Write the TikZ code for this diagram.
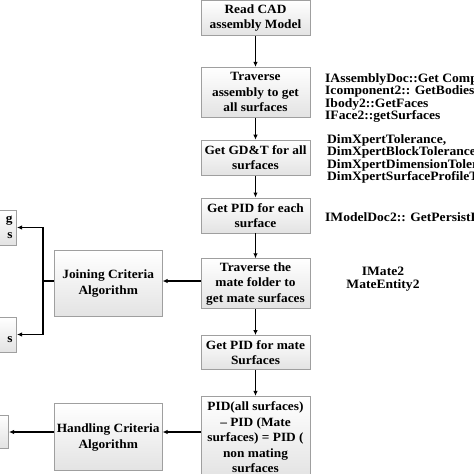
\documentclass[tikz,border=0pt]{standalone}
\usepackage{fontspec}
\setmainfont[FakeStretch=1.06]{Liberation Serif}
\usetikzlibrary{positioning,arrows.meta}
\tikzset{
  blk/.style={draw=gray!75, line width=0.8pt, align=center, font=\bfseries\fontsize{12.6}{15.5}\selectfont,
              top color=white, bottom color=gray!22, inner sep=2pt, minimum width=109pt},
  api/.style={align=left, font=\bfseries\fontsize{12.8}{12.6}\selectfont, inner sep=0pt, anchor=west},
  flow/.style={-{Latex[length=5pt,width=4.5pt]}, line width=1.3pt},
}
\begin{document}
\begin{tikzpicture}[x=1pt, y=-1pt]
  \useasboundingbox (0,0) rectangle (474,474);
  \clip (0,0) rectangle (474,474);
  % main column
  \node[blk, minimum height=35pt] (read) at (255.5,18) {Read CAD\\assembly Model};
  \node[blk, minimum height=50pt, below=31pt of read] (trav) {Traverse\\assembly to get\\all surfaces};
  \node[blk, minimum height=35pt, below=22pt of trav] (gdt) {Get GD\&T for all\\surfaces};
  \node[blk, minimum height=35pt, below=22pt of gdt] (pid) {Get PID for each\\surface};
  \node[blk, minimum height=50pt, below=25pt of pid] (mate) {Traverse the\\mate folder to\\get mate surfaces};
  \node[blk, minimum height=34pt, below=26pt of mate] (pidm) {Get PID for mate\\Surfaces};
  \node[blk, minimum height=82pt, below=26pt of pidm] (diff) {PID(all surfaces)\\-- PID (Mate\\surfaces) = PID (\\non mating\\surfaces};
  % criteria boxes
  \node[blk, minimum width=108pt, minimum height=66pt, left=38pt of mate] (join) {Joining Criteria\\Algorithm};
  \node[blk, minimum width=108pt, minimum height=67pt, left=38pt of diff] (hand) {Handling Criteria\\Algorithm};
  % cut-off boxes at the left edge
  \node[blk, minimum width=60pt, text width=52pt, minimum height=35pt, anchor=east, align=right] (outa) at (17,227.5) {g\\s};
  \node[blk, minimum width=60pt, text width=52pt, minimum height=35pt, anchor=east, align=right] (outb) at (17,334.5) {\mbox{}\\s};
  \node[blk, minimum width=60pt, minimum height=33pt, anchor=east] (outc) at (9,431.5) {};
  % API calls
  \node[api] (apia) at (325,98) {IAssemblyDoc::Get Components\\Icomponent2:: GetBodies2\\Ibody2::GetFaces\\IFace2::getSurfaces};
  \node[api] (apib) at (327,159) {DimXpertTolerance,\\DimXpertBlockTolerance\\DimXpertDimensionTolerance\\DimXpertSurfaceProfileTolerance};
  \node[api] (apic) at (325,217) {IModelDoc2:: GetPersistReference3};
  \node[api, align=center, anchor=center] (apid) at (383,279) {IMate2\\MateEntity2};
  % connectors
  \draw[flow] (read) -- (trav);
  \draw[flow] (trav) -- (gdt);
  \draw[flow] (gdt) -- (pid);
  \draw[flow] (pid) -- (mate);
  \draw[flow] (mate) -- (pidm);
  \draw[flow] (pidm) -- (diff);
  \draw[flow] (mate.west |- 0,281) -- (join.east |- 0,281);
  \draw[flow] (diff.west |- 0,432) -- (hand.east |- 0,432);
  \draw[flow] (hand.west |- 0,432) -- (outc.east |- 0,432);
  \coordinate (split) at (43,281);
  \draw[line width=1.3pt] (join.west |- split) -- (split);
  \draw[flow] (split) |- (outa.east);
  \draw[flow] (split) |- (outb.east);
\end{tikzpicture}
\end{document}
